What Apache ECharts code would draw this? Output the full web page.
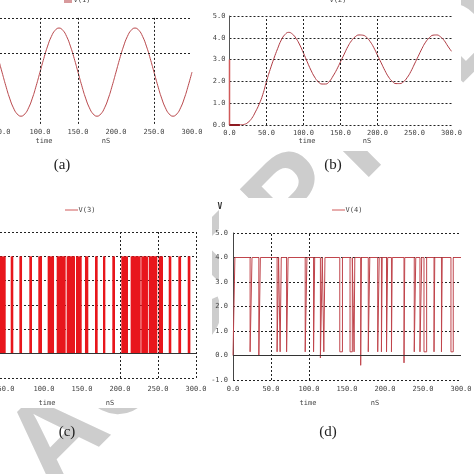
<!DOCTYPE html>
<html><head><meta charset="utf-8">
<script src="https://cdn.jsdelivr.net/npm/echarts@6/dist/echarts.min.js"></script>
<style>html,body{margin:0;padding:0;background:#fff}#c{width:474px;height:474px}</style>
</head><body><div id="c"></div>
<script>
// ---------- data ----------
const xTicks = [0, 50, 100, 150, 200, 250, 300];
// (a) sine response
const aTime = [40,45,50,55,60,65,70,75,80,85,90,95,100,105,110,115,120,125,130,135,140,145,150,155,160,165,170,175,180,185,190,195,200,205,210,215,220,225,230,235,240,245,250,255,260,265,270,275,280,285,290,295,300];
const aValue = [0.59,0.31,0.00,-0.31,-0.59,-0.81,-0.95,-1.00,-0.95,-0.81,-0.59,-0.31,0.00,0.31,0.59,0.81,0.95,1.00,0.95,0.81,0.59,0.31,0.00,-0.31,-0.59,-0.81,-0.95,-1.00,-0.95,-0.81,-0.59,-0.31,0.00,0.31,0.59,0.81,0.95,1.00,0.95,0.81,0.59,0.31,0.00,-0.31,-0.59,-0.81,-0.95,-1.00,-0.95,-0.81,-0.59,-0.31,0.00];
const aGuideY = [1.23, 0.43];
const aGuideX = [100, 150, 250];
// (b) filtered output
const bTime = [0,5,10,15,20,25,30,35,40,45,50,55,60,65,70,75,80,85,90,95,100,105,110,115,120,125,130,135,140,145,150,155,160,165,170,175,180,185,190,195,200,205,210,215,220,225,230,235,240,245,250,255,260,265,270,275,280,285,290,295,300];
const bValue = [0,0,0,0.01,0.03,0.12,0.30,0.60,0.95,1.40,2.00,2.55,3.05,3.50,3.90,4.15,4.25,4.17,3.97,3.67,3.30,2.90,2.52,2.20,1.98,1.88,1.88,2.00,2.25,2.55,2.90,3.25,3.60,3.87,4.05,4.13,4.12,4.03,3.83,3.55,3.20,2.85,2.50,2.20,2.00,1.90,1.90,1.98,2.17,2.45,2.80,3.15,3.50,3.80,4.00,4.12,4.13,4.05,3.88,3.62,3.38];
const bStartY = [0, 3.0];
const bStartFlat = [0, 14];
const bGuideX = [50, 100, 150, 200];
// (c) PWM pulses (high level)
const cPulseStart = [40,56.2,67.6,80.7,92.5,104.8,116.7,129.8,142.1,153.9,167.1,177.6,189.9,201.7,214,228,237.8,250.9,264.1,276.8,289.1];
const cPulseEnd   = [49.6,59.6,71.1,84.2,97.4,113.2,128.5,140.8,149.6,158.3,170.6,180.7,193.4,210.5,227.2,236.8,249.1,256.6,267.5,280.4,292.6];
const cGuideX = [200, 250, 300];
// (d) output with short low dips
const dRise = 2.5;
const dDipStart = [22.5,34,58,62,70.5,95,106,115,119.5,140.5,154,159.3,168,178,190.4,195.3,202,208.5,225,238.5,246,251.3,264.5,274.3,286.8];
const dDipWidth = [2.5,2,2,1.5,2,2.3,1.5,2.5,1.5,3.5,3,1,1,2,2,1,1.5,1,1,2,2.3,3.5,1,1,3];
const dDipLow   = [0.15,0,0.15,0.15,0.15,0.15,0.15,-0.1,0.15,0.15,0.15,0.15,-0.4,0.15,0.15,0.15,0.15,0.15,-0.3,0.15,0.15,0.15,0.15,0.15,0.15];
const dGuideX = [50, 100];
const levelHigh = 4;
const levels = [-1, 5];

// ---------- build ----------
const aData = aTime.map((t, i) => [t, aValue[i]]);
const bData = bTime.map((t, i) => [t, bValue[i]]);
const cData = cPulseStart.map((s, i) => [s, cPulseEnd[i]]);
const dData = [[0, 0], [dRise, 0], [dRise, levelHigh]];
dDipStart.forEach((s, i) => {
  const e = s + dDipWidth[i];
  dData.push([s, levelHigh], [s, dDipLow[i]], [e, dDipLow[i]], [e, levelHigh]);
});
dData.push([300, levelHigh]);

const FONT = '"DejaVu Sans Mono", monospace';
const dot = { type: [2, 2], color: '#222', width: 1 };
const fmt = v => v.toFixed(1);
const lbl = (m) => ({ show: true, fontFamily: FONT, fontSize: 7, color: '#444', margin: m, formatter: fmt });
const noAx = { show: false };
function xAx(grid, m) {
  return { type: 'value', gridIndex: grid, min: xTicks[0], max: xTicks[xTicks.length - 1], interval: 50,
    axisLine: noAx, axisTick: noAx, splitLine: noAx, axisLabel: lbl(m) };
}
function vMark(list, y0, y1) {
  return { silent: true, symbol: 'none', label: noAx, lineStyle: dot, animation: false,
    data: list.map(v => (y0 === undefined ? { xAxis: v } : [{ coord: [v, y0] }, { coord: [v, y1] }])) };
}
const G = (o) => Object.assign({ outerBoundsMode: 'none', containLabel: false }, o);
const T = (x, y, text, extra) => ({ type: 'text', x, y, style: Object.assign({ text, font: '7px ' + FONT, fill: '#444', align: 'center', textAlign: 'center', verticalAlign: 'middle', textVerticalAlign: 'middle' }, extra || {}) });

const option = {
  animation: false,
  backgroundColor: '#fff',
  grid: [
    G({ left: -36, top: 6, width: 228, height: 119 }),
    G({ left: 229.5, top: 16, width: 222, height: 109 }),
    G({ left: -32, top: 232, width: 228, height: 146 }),
    G({ left: 233, top: 233, width: 228, height: 147 })
  ],
  xAxis: [xAx(0, 4), xAx(1, 5), xAx(2, 8), xAx(3, 6)],
  yAxis: [
    { type: 'value', gridIndex: 0, min: -1.2, max: 1.5, axisLine: noAx, axisTick: noAx, axisLabel: noAx, splitLine: noAx },
    { type: 'value', gridIndex: 1, min: 0, max: 5, interval: 1,
      axisLine: { show: true, lineStyle: { color: '#555', width: 1 } }, axisTick: noAx,
      axisLabel: lbl(4), splitLine: { show: true, lineStyle: dot } },
    { type: 'value', gridIndex: 2, min: levels[0], max: levels[1], interval: 1,
      axisLine: noAx, axisTick: noAx, axisLabel: noAx, splitLine: { show: true, lineStyle: dot } },
    { type: 'value', gridIndex: 3, min: levels[0], max: levels[1], interval: 1,
      axisLine: { show: true, lineStyle: { color: '#444', width: 1 } }, axisTick: noAx,
      axisLabel: lbl(5), splitLine: { show: true, lineStyle: dot } }
  ],
  series: [
    { type: 'line', xAxisIndex: 0, yAxisIndex: 0, data: aData, smooth: true, symbol: 'none',
      lineStyle: { color: '#b9484c', width: 1 }, markLine: vMark(aGuideX, aGuideY[0], -1.2) },
    { type: 'line', xAxisIndex: 0, yAxisIndex: 0, data: [], symbol: 'none',
      markLine: { silent: true, symbol: 'none', label: noAx, lineStyle: dot, data: aGuideY.map(v => ({ yAxis: v })) } },
    { type: 'line', xAxisIndex: 1, yAxisIndex: 1, data: bData, smooth: true, symbol: 'none',
      lineStyle: { color: '#b03c44', width: 1 }, markLine: vMark(bGuideX, 0, 5) },
    { type: 'line', xAxisIndex: 1, yAxisIndex: 1, data: bStartY.map(v => [0, v]), symbol: 'none',
      lineStyle: { color: '#d05a5a', width: 1.5 } },
    { type: 'line', xAxisIndex: 1, yAxisIndex: 1, data: bStartFlat.map(t => [t, 0]), symbol: 'none',
      lineStyle: { color: '#8e1b22', width: 2 } },
    { type: 'custom', xAxisIndex: 2, yAxisIndex: 2, data: cData, encode: { x: [0, 1] },
      renderItem: (params, api) => {
        const p0 = api.coord([api.value(0), levelHigh]);
        const p1 = api.coord([api.value(1), 0]);
        return { type: 'rect', shape: { x: p0[0], y: p0[1], width: p1[0] - p0[0], height: p1[1] - p0[1] },
          style: { fill: '#e8161c' } };
      },
      markLine: vMark(cGuideX) },
    { type: 'line', xAxisIndex: 2, yAxisIndex: 2, data: [], symbol: 'none',
      markLine: { silent: true, symbol: 'none', label: noAx, lineStyle: { color: '#333', width: 1.2, type: 'solid' }, data: [{ yAxis: 0 }] } },
    { type: 'line', xAxisIndex: 3, yAxisIndex: 3, data: dData, symbol: 'none',
      lineStyle: { color: '#c0454c', width: 1 }, markLine: vMark(dGuideX) },
    { type: 'line', xAxisIndex: 3, yAxisIndex: 3, data: [], symbol: 'none',
      markLine: { silent: true, symbol: 'none', label: noAx, lineStyle: { color: '#333', width: 1.2, type: 'solid' }, data: [{ yAxis: 0 }] } }
  ],
  graphic: { elements: [
    { type: 'text', x: 262, y: 237, rotation: Math.PI / 4, z: -10,
      style: { text: 'ACCEPTED', font: 'bold 120px "Liberation Sans"', fill: '#cdcdcd', align: 'center', verticalAlign: 'middle', textAlign: 'center', textVerticalAlign: 'middle' } },
    { type: 'rect', z: -9, shape: { x: 0, y: 0, width: 206, height: 150 }, style: { fill: '#fff' } },
    { type: 'rect', z: -9, shape: { x: 205, y: 0, width: 256, height: 151 }, style: { fill: '#fff' } },
    { type: 'rect', z: -9, shape: { x: 0, y: 198, width: 212, height: 210 }, style: { fill: '#fff' } },
    { type: 'rect', z: -9, shape: { x: 219, y: 198, width: 255, height: 206 }, style: { fill: '#fff' } },
    // legends
    { type: 'rect', shape: { x: 64, y: -3, width: 8, height: 6 }, style: { fill: '#d89a9c' } },
    T(82, 0, 'V(1)'),
    T(338, 0, 'V(2)'),
    { type: 'line', shape: { x1: 65, y1: 210, x2: 78, y2: 210 }, style: { stroke: '#d05a5a', lineWidth: 1 } },
    T(87, 210, 'V(3)'),
    { type: 'line', shape: { x1: 332, y1: 210, x2: 345, y2: 210 }, style: { stroke: '#d05a5a', lineWidth: 1 } },
    T(354, 210, 'V(4)'),
    T(220, 207, 'V', { font: 'bold 8px ' + FONT, fill: '#333' }),
    // axis titles
    T(44, 141, 'time'), T(106, 141, 'nS'),
    T(307, 141, 'time'), T(367, 141, 'nS'),
    T(47, 403, 'time'), T(110, 403, 'nS'),
    T(308, 403, 'time'), T(375, 403, 'nS'),
    // panel captions
    T(62, 165, '(a)', { font: '15px "Liberation Serif"', fill: '#222' }),
    T(333, 165, '(b)', { font: '15px "Liberation Serif"', fill: '#222' }),
    T(67, 432, '(c)', { font: '15px "Liberation Serif"', fill: '#222' }),
    T(328, 432, '(d)', { font: '15px "Liberation Serif"', fill: '#222' })
  ] }
};
const chart = echarts.init(document.getElementById('c'), null, { renderer: 'canvas' });
chart.setOption(option);
</script>
</body></html>
